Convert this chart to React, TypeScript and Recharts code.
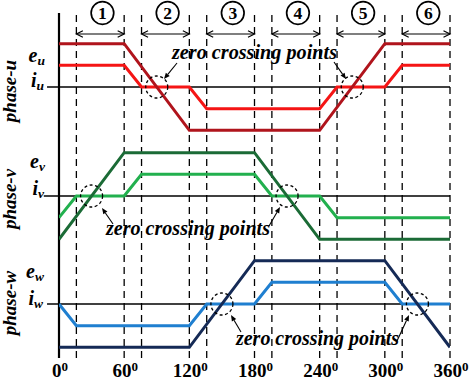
import React from 'react';
import { LineChart, Line, XAxis, YAxis, ReferenceLine, ReferenceDot } from 'recharts';

// ---- data ----
const angleTicks = [0, 60, 120, 180, 240, 300, 360];
const dividerAngles = [16, 60, 76, 120, 136, 180, 196, 240, 256, 300, 316, 360];
const intervalStarts = [16, 76, 136, 196, 256, 316];
const intervalEnds = [60, 120, 180, 240, 300, 360];
const intervalLabels = ['1', '2', '3', '4', '5', '6'];
const intervalLabelAngles = [40, 100, 160, 220, 280, 340];

const eUAngles = [0, 60, 120, 240, 300, 360];
const eUValues = [1, 1, -1, -1, 1, 1];
const iUAngles = [0, 60, 76, 120, 136, 240, 256, 300, 316, 360];
const iUValues = [0.5, 0.5, 0, 0, -0.5, -0.5, 0, 0, 0.5, 0.5];

const eVAngles = [0, 60, 180, 240, 360];
const eVValues = [-1, 1, 1, -1, -1];
const iVAngles = [0, 16, 60, 76, 180, 196, 240, 256, 360];
const iVValues = [-0.5, 0, 0, 0.5, 0.5, 0, 0, -0.5, -0.5];

const eWAngles = [0, 120, 180, 300, 360];
const eWValues = [-1, -1, 1, 1, -1];
const iWAngles = [0, 16, 120, 136, 180, 196, 300, 316, 360];
const iWValues = [0, -0.5, -0.5, 0, 0, 0.5, 0.5, 0, 0];

const uCrossings = [90, 270];
const vCrossings = [30, 210];
const wCrossings = [150, 330];

const toPoints = (a: number[], v: number[]) => a.map((angle, i) => ({ angle, value: v[i] }));

// ---- layout / style ----
const W = 474;
const H = 381;
const PH = 104;
const MARGIN_L = 59;
const MARGIN_R = 24;
const SERIF = '"Liberation Serif", "DejaVu Serif", serif';

const DoubleArrow = (p: any) => {
  const { x1, y1, x2, y2 } = p;
  const h = 6.5;
  const w = 3.2;
  return (
    <g stroke="#000" strokeWidth={1.2} fill="none">
      <line x1={x1} y1={y1} x2={x2} y2={y2} />
      <polyline points={`${x1 + h},${y1 - w} ${x1},${y1} ${x1 + h},${y1 + w}`} />
      <polyline points={`${x2 - h},${y2 - w} ${x2},${y2} ${x2 - h},${y2 + w}`} />
    </g>
  );
};

const circled = (label: string) => (p: any) => (
  <g>
    <circle cx={p.cx} cy={p.cy} r={11.3} fill="#fff" stroke="#000" strokeWidth={1.7} />
    <text x={p.cx} y={p.cy + 6} textAnchor="middle" fontFamily={SERIF} fontWeight="bold" fontSize={17.5}>
      {label}
    </text>
  </g>
);

const DegreeTick = (p: any) => {
  const { x, y, payload } = p;
  return (
    <text x={x + 1} y={y + 19} textAnchor="middle" fontFamily={SERIF} fontWeight="bold" fontSize={19} fill="#000">
      <tspan>{payload.value}</tspan>
      <tspan dy={-6} fontSize={13}>0</tspan>
    </text>
  );
};

type PhaseProps = {
  top: number;
  eData: { angle: number; value: number }[];
  iData: { angle: number; value: number }[];
  eColor: string;
  iColor: string;
  crossings: number[];
  zeroStart: number;
};

function PhaseChart({ top, eData, iData, eColor, iColor, crossings, zeroStart }: PhaseProps) {
  return (
    <div style={{ position: 'absolute', left: 0, top, width: W, height: PH }}>
      <LineChart width={W} height={PH} margin={{ top: 0, right: MARGIN_R, bottom: 0, left: MARGIN_L }} style={{ overflow: 'visible' }}>
        <XAxis type="number" dataKey="angle" domain={[0, 360]} hide allowDataOverflow />
        <YAxis type="number" domain={[-1.2, 1.2]} hide allowDataOverflow />
        <ReferenceLine
          segment={[{ x: zeroStart, y: 0 }, { x: 360, y: 0 }]}
          stroke="#000"
          strokeWidth={1.3}
          ifOverflow="visible"
        />
        <Line data={iData} dataKey="value" type="linear" stroke={iColor} strokeWidth={3} dot={false} isAnimationActive={false} />
        <Line data={eData} dataKey="value" type="linear" stroke={eColor} strokeWidth={3} dot={false} isAnimationActive={false} />
        {crossings.map((c) => (
          <ReferenceDot
            key={c}
            x={c}
            y={0}
            r={11}
            fill="none"
            stroke="#000"
            strokeWidth={1.3}
            strokeDasharray="3 2.5"
            ifOverflow="visible"
          />
        ))}
      </LineChart>
    </div>
  );
}

const Arrow = ({ x1, y1, x2, y2 }: { x1: number; y1: number; x2: number; y2: number }) => {
  const dx = x2 - x1;
  const dy = y2 - y1;
  const len = Math.sqrt(dx * dx + dy * dy);
  const ux = dx / len;
  const uy = dy / len;
  const h = 6;
  const w = 2.5;
  const bx = x2 - ux * h;
  const by = y2 - uy * h;
  return (
    <g>
      <line x1={x1} y1={y1} x2={bx} y2={by} stroke="#000" strokeWidth={1.1} />
      <polygon
        points={`${x2},${y2} ${bx - uy * w},${by + ux * w} ${bx + uy * w},${by - ux * w}`}
        fill="#000"
      />
    </g>
  );
};

const SigLabel = ({ x, y, main, sub }: { x: number; y: number; main: string; sub: string }) => (
  <text x={x} y={y} textAnchor="end" fontFamily={SERIF} fontWeight="bold" fontStyle="italic" fontSize={20} fill="#000">
    <tspan>{main}</tspan>
    <tspan dy={2.5} fontSize={13.5}>{sub}</tspan>
  </text>
);

const PhaseLabel = ({ x, y, text }: { x: number; y: number; text: string }) => (
  <text
    x={x}
    y={y}
    transform={`rotate(-90 ${x} ${y})`}
    textAnchor="middle"
    fontFamily={SERIF}
    fontWeight="bold"
    fontStyle="italic"
    fontSize={19}
    fill="#000"
  >
    {text}
  </text>
);

const ZeroText = ({ x, y, len }: { x: number; y: number; len: number }) => (
  <text
    x={x}
    y={y}
    fontFamily={SERIF}
    fontWeight="bold"
    fontStyle="italic"
    fontSize={20}
    textLength={len}
    lengthAdjust="spacingAndGlyphs"
    fill="#000"
  >
    zero crossing points
  </text>
);

export default function App() {
  const bgData = angleTicks.map((a) => ({ angle: a, level: 0 }));
  return (
    <div style={{ position: 'absolute', left: 0, top: 0, width: W, height: H, background: '#fff', overflow: 'hidden' }}>
      <div style={{ position: 'absolute', left: 0, top: 0 }}>
        <LineChart width={W} height={H} data={bgData} margin={{ top: 13, right: MARGIN_R, bottom: 0, left: MARGIN_L }} style={{ overflow: 'visible' }}>
          <XAxis
            type="number"
            dataKey="angle"
            domain={[0, 360]}
            allowDataOverflow
            ticks={angleTicks}
            interval={0}
            axisLine={false}
            tickLine={false}
            tickSize={0}
            tickMargin={0}
            height={23}
            tick={<DegreeTick />}
          />
          <YAxis type="number" dataKey="level" domain={[0, 345]} allowDataOverflow reversed hide />
          {dividerAngles.map((a) => (
            <ReferenceLine key={a} x={a} stroke="#000" strokeWidth={1.3} strokeDasharray="7 5" ifOverflow="visible" />
          ))}
          <ReferenceLine x={0} stroke="#000" strokeWidth={2.2} ifOverflow="visible" />
          {intervalStarts.map((s, i) => (
            <ReferenceLine
              key={'arr' + s}
              segment={[{ x: s, y: 21 }, { x: intervalEnds[i], y: 21 }]}
              shape={DoubleArrow}
              ifOverflow="visible"
            />
          ))}
          {intervalLabelAngles.map((a, i) => (
            <ReferenceDot key={'lab' + a} x={a} y={0} r={11} shape={circled(intervalLabels[i])} ifOverflow="visible" />
          ))}
        </LineChart>
      </div>

      <PhaseChart top={35.3} eData={toPoints(eUAngles, eUValues)} iData={toPoints(iUAngles, iUValues)} eColor="#b0141c" iColor="#f51515" crossings={uCrossings} zeroStart={-11} />
      <PhaseChart top={144} eData={toPoints(eVAngles, eVValues)} iData={toPoints(iVAngles, iVValues)} eColor="#1b6b36" iColor="#22b04e" crossings={vCrossings} zeroStart={-14} />
      <PhaseChart top={252.3} eData={toPoints(eWAngles, eWValues)} iData={toPoints(iWAngles, iWValues)} eColor="#152a56" iColor="#1f7fd0" crossings={wCrossings} zeroStart={-11} />

      <svg width={W} height={H} style={{ position: 'absolute', left: 0, top: 0, pointerEvents: 'none' }}>
        <PhaseLabel x={16} y={91} text="phase-u" />
        <PhaseLabel x={16} y={199} text="phase-v" />
        <PhaseLabel x={16} y={303} text="phase-w" />

        <SigLabel x={45} y={62} main="e" sub="u" />
        <SigLabel x={44} y={87} main="i" sub="u" />
        <SigLabel x={45} y={168} main="e" sub="v" />
        <SigLabel x={44} y={195} main="i" sub="v" />
        <SigLabel x={44} y={278} main="e" sub="w" />
        <SigLabel x={43} y={305} main="i" sub="w" />

        <ZeroText x={172} y={59} len={165} />
        <ZeroText x={106} y={235} len={164} />
        <ZeroText x={236} y={345} len={163} />

        <Arrow x1={177} y1={63} x2={164} y2={79} />
        <Arrow x1={334} y1={62} x2={346} y2={79} />
        <Arrow x1={113} y1={224} x2={102} y2={208} />
        <Arrow x1={269} y1={226} x2={280} y2={207} />
        <Arrow x1={241} y1={332} x2={231} y2={315} />
        <Arrow x1={397} y1={341} x2={409} y2={315} />
      </svg>
    </div>
  );
}
